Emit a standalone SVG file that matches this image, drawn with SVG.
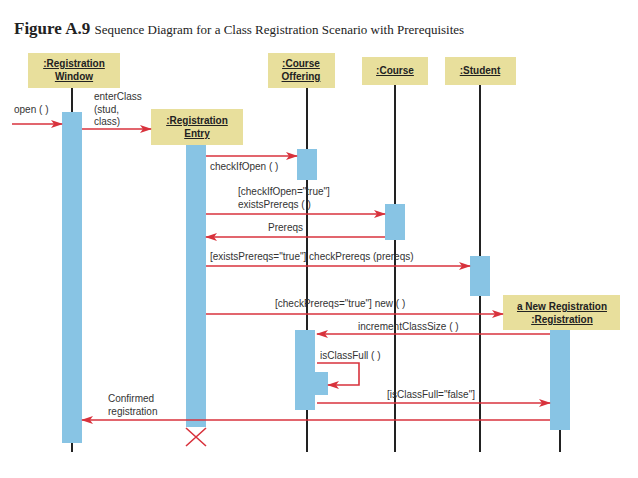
<svg xmlns="http://www.w3.org/2000/svg" width="638" height="478" viewBox="0 0 638 478">
<defs><marker id="ah" markerWidth="12" markerHeight="8" refX="11" refY="4" orient="auto" markerUnits="userSpaceOnUse"><path d="M0,0 L12,4 L0,8 L3,4 Z" fill="#d8323c"/></marker></defs>
<style>
.hd{fill:#e8df9c}.bar{fill:#88c4e4}.ll{stroke:#222;stroke-width:2}
.t{font-family:"Liberation Sans",Arial,sans-serif;font-size:10px;fill:#333}
.h{font-family:"Liberation Sans",Arial,sans-serif;font-size:10px;font-weight:bold;fill:#222;text-decoration:underline;text-anchor:middle}
.m{stroke:#d8323c;stroke-width:1.6;fill:none}
</style>
<rect width="638" height="478" fill="#fff"/>
<text x="14" y="34" font-family="Liberation Serif,serif" font-size="17" font-weight="bold" fill="#222">Figure A.9 <tspan font-weight="normal" font-size="13">Sequence Diagram for a Class Registration Scenario with Prerequisites</tspan></text>
<g id="lifelines">
<line class="ll" x1="72" y1="88" x2="72" y2="452"/><line class="ll" x1="196" y1="145" x2="196" y2="427"/>
<line class="ll" x1="307" y1="88" x2="307" y2="452"/><line class="ll" x1="395" y1="85" x2="395" y2="452"/>
<line class="ll" x1="480" y1="85" x2="480" y2="452"/><line class="ll" x1="560" y1="330" x2="560" y2="452"/>
</g>
<g id="regwindow"><rect class="hd" x="28" y="53" width="92" height="35"/><text class="h" x="74" y="67">:Registration</text><text class="h" x="74" y="80">Window</text><rect class="bar" x="62" y="112" width="20" height="331"/></g>
<g id="regentry"><rect class="hd" x="151" y="109" width="92" height="36"/><text class="h" x="197" y="124">:Registration</text><text class="h" x="197" y="137">Entry</text><rect class="bar" x="186" y="145" width="20" height="282"/>
<path d="M186,428 L206,446 M206,428 L186,446" stroke="#d8323c" stroke-width="1.6"/></g>
<g id="courseoffering"><rect class="hd" x="268" y="53" width="67" height="35"/><text class="h" x="301" y="67">:Course</text><text class="h" x="301" y="80">Offering</text>
<rect class="bar" x="297" y="149" width="20" height="31"/><rect class="bar" x="295" y="330" width="20" height="80"/><rect class="bar" x="315" y="372" width="13" height="23"/></g>
<g id="course"><rect class="hd" x="362" y="57" width="66" height="28"/><text class="h" x="395" y="74">:Course</text><rect class="bar" x="385" y="204" width="20" height="36"/></g>
<g id="student"><rect class="hd" x="445" y="57" width="71" height="28"/><text class="h" x="480" y="74">:Student</text><rect class="bar" x="470" y="256" width="20" height="40"/></g>
<g id="newreg"><rect class="hd" x="503" y="295" width="117" height="35"/><text class="h" x="562" y="310">a New Registration</text><text class="h" x="562" y="323">:Registration</text><rect class="bar" x="550" y="330" width="20" height="100"/></g>
<g id="connectors">
<line class="m" x1="12" y1="124" x2="62" y2="124" marker-end="url(#ah)"/>
<line class="m" x1="82" y1="129" x2="151" y2="129" marker-end="url(#ah)"/>
<line class="m" x1="206" y1="156" x2="297" y2="156" marker-end="url(#ah)"/>
<line class="m" x1="206" y1="214" x2="385" y2="214" marker-end="url(#ah)"/>
<line class="m" x1="385" y1="237" x2="206" y2="237" marker-end="url(#ah)"/>
<line class="m" x1="206" y1="266" x2="470" y2="266" marker-end="url(#ah)"/>
<line class="m" x1="206" y1="314" x2="503" y2="314" marker-end="url(#ah)"/>
<line class="m" x1="550" y1="334" x2="317" y2="334" marker-end="url(#ah)"/>
<polyline class="m" points="317,363 359,363 359,385 328,385" marker-end="url(#ah)"/>
<line class="m" x1="317" y1="403" x2="550" y2="403" marker-end="url(#ah)"/>
<line class="m" x1="550" y1="420" x2="82" y2="420" marker-end="url(#ah)"/>
</g>
<g id="labels">
<text class="t" x="14" y="113">open ( )</text>
<text class="t" x="94" y="100">enterClass</text><text class="t" x="94" y="113">(stud,</text><text class="t" x="94" y="125">class)</text>
<text class="t" x="210" y="170">checkIfOpen ( )</text>
<text class="t" x="238" y="195">[checkIfOpen="true"]</text><text class="t" x="238" y="208">existsPrereqs ( )</text>
<text class="t" x="268" y="231">Prereqs</text>
<text class="t" x="210" y="260">[existsPrereqs="true"] checkPrereqs (prereqs)</text>
<text class="t" x="275" y="307">[checkPrereqs="true"] new ( )</text>
<text class="t" x="358" y="330">incrementClassSize ( )</text>
<text class="t" x="320" y="359">isClassFull ( )</text>
<text class="t" x="387" y="398">[isClassFull="false"]</text>
<text class="t" x="108" y="402">Confirmed</text><text class="t" x="108" y="415">registration</text>
</g>
</svg>
